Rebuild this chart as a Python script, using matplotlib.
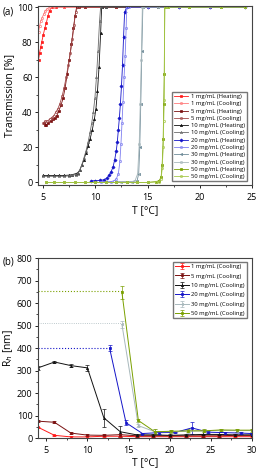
import numpy as np
import matplotlib
matplotlib.use("Agg")
import matplotlib.pyplot as plt
from matplotlib.ticker import MultipleLocator

# ---- panel (a): transmission vs T ----
t1_heat = [4.55, 4.65, 4.75, 4.85, 5.0, 5.15, 5.3, 5.45, 5.6, 5.8, 6.2, 7, 9, 12, 15, 18, 21, 24.3]
y1_heat = [70, 74, 77, 80, 84, 88, 91, 95, 98, 100, 100, 100, 100, 100, 100, 100, 100, 100]
t1_cool = [4.55, 4.65, 4.75, 4.9, 5.05, 5.2, 5.4, 5.6, 6.0, 7, 9, 12, 15, 18, 21, 24.3]
y1_cool = [86, 89, 92, 94, 96, 98, 99, 100, 100, 100, 100, 100, 100, 100, 100, 100]

t5_heat = [5.1, 5.2, 5.3, 5.5, 5.7, 5.9, 6.1, 6.3, 6.5, 6.7, 6.9, 7.1, 7.3, 7.5, 7.7, 7.9, 8.05, 8.2, 8.4, 9, 12, 15, 18, 21, 24.3]
y5_heat = [34, 33, 33, 34, 35, 36, 37, 38, 41, 44, 48, 54, 62, 70, 79, 88, 95, 100, 100, 100, 100, 100, 100, 100, 100]
t5_cool = [5.0, 5.2, 5.4, 5.6, 5.8, 6.0, 6.2, 6.4, 6.6, 6.8, 7.0, 7.2, 7.4, 7.6, 7.8, 7.95, 8.1, 8.3, 9, 12, 15, 18, 21, 24.3]
y5_cool = [34, 35, 35, 36, 37, 38, 40, 42, 45, 49, 54, 60, 67, 74, 82, 90, 97, 100, 100, 100, 100, 100, 100, 100]

t10_heat = [5.0, 5.5, 6.0, 6.5, 7.0, 7.5, 7.8, 8.1, 8.3, 8.5, 8.7, 8.9, 9.1, 9.3, 9.5, 9.7, 9.9, 10.05, 10.2, 10.35, 10.5, 10.6, 11, 13, 16, 19, 22, 24.3]
y10_heat = [4, 4, 4, 4, 4, 4.2, 4.5, 5, 5.5, 7, 10, 13, 17, 21, 25, 30, 36, 42, 52, 66, 85, 100, 100, 100, 100, 100, 100, 100]
t10_cool = [5.0, 5.5, 6.0, 6.5, 7.0, 7.5, 7.8, 8.1, 8.3, 8.5, 8.7, 8.9, 9.1, 9.3, 9.5, 9.65, 9.8, 9.95, 10.1, 10.25, 10.4, 10.5, 11, 13, 16, 19, 22, 24.3]
y10_cool = [3.5, 3.5, 3.5, 3.5, 3.5, 3.8, 4, 4.5, 5, 7, 10, 14, 18, 23, 29, 34, 40, 48, 60, 75, 92, 100, 100, 100, 100, 100, 100, 100]

t20_heat = [9.6, 10.0, 10.4, 10.8, 11.1, 11.3, 11.5, 11.7, 11.85, 12.0, 12.1, 12.2, 12.3, 12.4, 12.5, 12.6, 12.7, 12.8, 13, 15, 18, 21, 24.3]
y20_heat = [1, 1, 1.2, 1.5, 2.5, 4, 6, 9, 13, 18, 23, 30, 37, 45, 55, 67, 83, 97, 100, 100, 100, 100, 100]
t20_cool = [10.5, 11.0, 11.5, 11.8, 12.0, 12.2, 12.35, 12.45, 12.55, 12.65, 12.75, 12.85, 12.95, 13.0, 13.2, 15, 18, 21, 24.3]
y20_cool = [0.5, 0.5, 0.5, 1, 2, 5, 12, 22, 34, 46, 60, 72, 88, 100, 100, 100, 100, 100, 100]

t30_heat = [12.0, 12.5, 13.0, 13.5, 14.0, 14.15, 14.25, 14.35, 14.45, 14.55, 14.6, 16, 19, 22, 24.3]
y30_heat = [0.5, 0.5, 0.5, 0.5, 1, 5, 20, 45, 75, 100, 100, 100, 100, 100, 100]
t30_cool = [12.0, 12.5, 13.0, 13.5, 13.8, 14.05, 14.2, 14.3, 14.4, 14.5, 14.6, 16, 19, 22, 24.3]
y30_cool = [0.5, 0.5, 0.5, 0.5, 1, 5, 22, 45, 70, 100, 100, 100, 100, 100, 100]

t50_heat = [5.3, 6, 7, 8, 9, 10, 11, 12, 13, 14, 15, 15.8, 16.1, 16.3, 16.4, 16.5, 16.55, 16.6, 16.65, 17, 19, 22, 24.3]
y50_heat = [0, 0, 0, 0, 0, 0, 0, 0, 0, 0, 0, 0.5, 1, 3, 10, 25, 45, 62, 100, 100, 100, 100, 100]
t50_cool = [5.3, 6, 7, 8, 9, 10, 11, 12, 13, 14, 15, 15.8, 16.1, 16.3, 16.4, 16.5, 16.55, 16.6, 16.65, 17, 19, 22, 24.3]
y50_cool = [0, 0, 0, 0, 0, 0, 0, 0, 0, 0, 0, 0.3, 0.5, 2, 8, 20, 35, 47, 100, 100, 100, 100, 100]

# ---- panel (b): Rh vs T (cooling) ----
tb1 = [4, 6, 8, 10, 12, 14, 16, 18, 20, 22, 24, 26, 28, 30]
rh1 = [48, 12, 5, 5, 8, 8, 6, 6, 6, 6, 6, 6, 6, 6]
tb5 = [4, 6, 8, 10, 12, 14, 16, 18, 20, 22, 24, 26, 28, 30]
rh5 = [75, 70, 22, 13, 12, 15, 10, 10, 10, 10, 10, 10, 12, 12]
tb10 = [4, 6, 8, 10, 12, 14, 16, 18, 20, 22, 24, 26, 28, 30]
rh10 = [312, 338, 322, 312, 90, 28, 14, 14, 12, 14, 16, 16, 14, 14]
err10 = [8, 6, 6, 12, 40, 25, 5, 4, 4, 4, 4, 4, 4, 4]
tb20 = [12.7, 14.7, 16.7, 18.7, 20.7, 22.7, 24.7, 26.7, 28.7, 30]
rh20 = [400, 68, 20, 24, 25, 45, 26, 24, 22, 20]
err20 = [15, 10, 4, 4, 4, 28, 5, 5, 4, 4]
tb30 = [14.2, 16.2, 18.2, 20.2, 22.2, 24.2, 26.2, 28.2, 30]
rh30 = [505, 55, 28, 28, 30, 32, 34, 33, 33]
err30 = [15, 8, 10, 6, 6, 6, 6, 6, 6]
tb50 = [14.2, 16.2, 18.2, 20.2, 22.2, 24.2, 26.2, 28.2, 30]
rh50 = [648, 78, 28, 30, 32, 32, 36, 35, 35]
err50 = [28, 8, 10, 6, 6, 6, 6, 6, 6]

c1, c1c = "#ff1a1a", "#ff7a7a"
c5, c5c = "#7a1010", "#a04848"
c10, c10c = "#111111", "#6a6a6a"
c20, c20c = "#1414c8", "#7e7ef0"
c30, c30c = "#6f8c99", "#a8b8bc"
c50, c50c = "#7aa000", "#a6c84a"

plt.rcParams['font.family'] = ['Open Sans', 'DejaVu Sans']
fig = plt.figure(figsize=(2.57, 4.71), dpi=100)
ax1 = fig.add_axes([0.148, 0.607, 0.832, 0.380])
ax2 = fig.add_axes([0.148, 0.070, 0.832, 0.382])

kw = dict(lw=0.6, ms=1.6, mew=0.5)
ax1.plot(t1_heat, y1_heat, '-s', color=c1, label='1 mg/mL (Heating)', **kw)
ax1.plot(t1_cool, y1_cool, '-o', color=c1c, mfc='none', label='1 mg/mL (Cooling)', **kw)
ax1.plot(t5_heat, y5_heat, '-s', color=c5, label='5 mg/mL (Heating)', **kw)
ax1.plot(t5_cool, y5_cool, '-o', color=c5c, mfc='none', label='5 mg/mL (Cooling)', **kw)
ax1.plot(t10_heat, y10_heat, '-^', color=c10, label='10 mg/mL (Heating)', **kw)
ax1.plot(t10_cool, y10_cool, '-^', color=c10c, mfc='none', label='10 mg/mL (Cooling)', **kw)
ax1.plot(t20_heat, y20_heat, '-D', color=c20, label='20 mg/mL (Heating)', **kw)
ax1.plot(t20_cool, y20_cool, '-o', color=c20c, mfc='none', label='20 mg/mL (Cooling)', **kw)
ax1.plot(t30_heat, y30_heat, '-<', color=c30, label='30 mg/mL (Heating)', **kw)
ax1.plot(t30_cool, y30_cool, '-o', color=c30c, mfc='none', label='30 mg/mL (Cooling)', **kw)
ax1.plot(t50_heat, y50_heat, '-s', color=c50, label='50 mg/mL (Heating)', **kw)
ax1.plot(t50_cool, y50_cool, '-o', color=c50c, mfc='none', label='50 mg/mL (Cooling)', **kw)

ax1.set_xlim(4.5, 25)
ax1.set_ylim(-1.5, 100.5)
ax1.xaxis.set_major_locator(MultipleLocator(5))
ax1.xaxis.set_minor_locator(MultipleLocator(2.5))
ax1.yaxis.set_major_locator(MultipleLocator(20))
ax1.yaxis.set_minor_locator(MultipleLocator(10))
ax1.set_xlabel('T [°C]', fontsize=7.5, labelpad=2)
ax1.set_ylabel('Transmission [%]', fontsize=7.5, labelpad=1)
ax1.legend(loc='lower right', fontsize=4.2, frameon=True, fancybox=False,
           edgecolor='#555555', handlelength=2.4, handletextpad=0.4,
           labelspacing=0.38, borderpad=0.35, bbox_to_anchor=(0.99, 0.005))
fig.text(0.01, 0.987, '(a)', fontsize=7, va='top')

kwb = dict(lw=0.7, ms=1.6, mew=0.5, capsize=1.2, elinewidth=0.5)
ax2.errorbar(tb1, rh1, yerr=[3] * len(tb1), fmt='-s', color=c1, label='1 mg/mL (Cooling)', **kwb)
ax2.errorbar(tb5, rh5, yerr=[5] * len(tb5), fmt='-s', color=c5, label='5 mg/mL (Cooling)', **kwb)
ax2.errorbar(tb10, rh10, yerr=err10, fmt='-^', color=c10, label='10 mg/mL (Cooling)', **kwb)
ax2.errorbar(tb20, rh20, yerr=err20, fmt='-s', color=c20, label='20 mg/mL (Cooling)', **kwb)
ax2.errorbar(tb30, rh30, yerr=err30, fmt='-<', color=c30c, label='30 mg/mL (Cooling)', **kwb)
ax2.errorbar(tb50, rh50, yerr=err50, fmt='-s', color=c50, label='50 mg/mL (Cooling)', **kwb)
ax2.plot([4, tb20[0]], [rh20[0], rh20[0]], ':', color=c20, lw=0.8)
ax2.plot([4, tb30[0]], [510, 510], ':', color=c30c, lw=0.6)
ax2.plot([4, tb50[0]], [655, 655], ':', color=c50, lw=0.8)

ax2.set_xlim(4, 30)
ax2.set_ylim(0, 800)
ax2.xaxis.set_major_locator(MultipleLocator(5))
ax2.xaxis.set_minor_locator(MultipleLocator(2.5))
ax2.yaxis.set_major_locator(MultipleLocator(100))
ax2.yaxis.set_minor_locator(MultipleLocator(50))
ax2.set_xlabel('T [°C]', fontsize=7.5, labelpad=1)
ax2.set_ylabel('R$_h$ [nm]', fontsize=7.5, labelpad=1)
ax2.legend(loc='upper right', fontsize=4.2, frameon=True, fancybox=False,
           edgecolor='#555555', handlelength=2.4, handletextpad=0.4,
           labelspacing=0.75, borderpad=0.35, bbox_to_anchor=(0.99, 0.995))
fig.text(0.01, 0.455, '(b)', fontsize=7, va='top')

for ax in (ax1, ax2):
    ax.tick_params(which='major', labelsize=6.5, length=2.5, width=0.6, pad=1.5)
    ax.tick_params(axis='x', which='major', pad=3.5)
    ax.tick_params(which='minor', length=1.5, width=0.5)
    ax.tick_params(top=False, right=False)
    for s in ax.spines.values():
        s.set_linewidth(0.8)
        s.set_color('#444444')

fig.savefig('out.png', dpi=100)
